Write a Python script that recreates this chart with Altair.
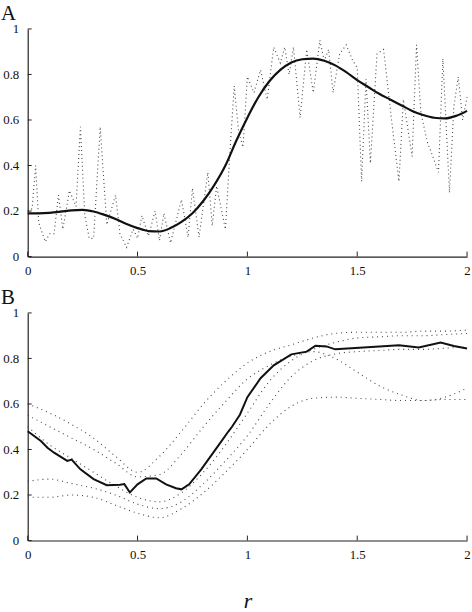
import altair as alt
import pandas as pd

FONT = "Liberation Serif"

# ---------------- Panel A ----------------
a_solid_r = [0.00, 0.05, 0.10, 0.15, 0.20, 0.25, 0.30, 0.35, 0.40, 0.45, 0.50,
             0.55, 0.60, 0.65, 0.70, 0.75, 0.80, 0.85, 0.90, 0.95, 1.00, 1.05,
             1.10, 1.15, 1.20, 1.25, 1.30, 1.35, 1.40, 1.45, 1.50, 1.55, 1.60,
             1.65, 1.70, 1.75, 1.80, 1.85, 1.90, 1.95, 2.00]
a_solid_v = [0.190, 0.190, 0.192, 0.197, 0.203, 0.205, 0.198, 0.183, 0.165, 0.143, 0.125,
             0.112, 0.110, 0.125, 0.152, 0.190, 0.245, 0.315, 0.400, 0.510, 0.610, 0.700,
             0.770, 0.820, 0.853, 0.867, 0.870, 0.860, 0.840, 0.810, 0.775, 0.745, 0.715,
             0.690, 0.665, 0.640, 0.622, 0.610, 0.607, 0.618, 0.640]

a_dot_r = [0.00, 0.02, 0.036, 0.05, 0.08, 0.10, 0.12, 0.14, 0.16, 0.19, 0.22, 0.24,
           0.26, 0.28, 0.30, 0.33, 0.36, 0.40, 0.42, 0.45, 0.48, 0.50, 0.52, 0.55,
           0.58, 0.60, 0.62, 0.65, 0.70, 0.73, 0.75, 0.78, 0.82, 0.84, 0.86, 0.90,
           0.92, 0.94, 0.96, 0.98, 1.00, 1.03, 1.06, 1.09, 1.12, 1.15, 1.17, 1.19,
           1.21, 1.24, 1.27, 1.30, 1.33, 1.35, 1.37, 1.39, 1.42, 1.45, 1.48, 1.50,
           1.52, 1.54, 1.56, 1.59, 1.62, 1.66, 1.69, 1.71, 1.75, 1.77, 1.79, 1.82,
           1.84, 1.87, 1.89, 1.92, 1.94, 1.96, 1.98, 2.00]
a_dot_v = [0.20, 0.21, 0.40, 0.15, 0.065, 0.10, 0.10, 0.27, 0.12, 0.29, 0.22, 0.57,
           0.18, 0.08, 0.08, 0.57, 0.14, 0.27, 0.10, 0.04, 0.12, 0.08, 0.18, 0.09,
           0.20, 0.07, 0.19, 0.06, 0.25, 0.085, 0.30, 0.085, 0.37, 0.135, 0.31, 0.12,
           0.45, 0.75, 0.55, 0.48, 0.79, 0.72, 0.82, 0.69, 0.92, 0.85, 0.92, 0.80,
           0.92, 0.61, 0.91, 0.72, 0.95, 0.86, 0.91, 0.72, 0.89, 0.93, 0.86, 0.83,
           0.33, 0.78, 0.41, 0.89, 0.91, 0.57, 0.33, 0.69, 0.44, 0.93, 0.63, 0.50,
           0.45, 0.37, 0.87, 0.28, 0.66, 0.79, 0.60, 0.70]

# ---------------- Panel B ----------------
b_solid_r = [0.00, 0.06, 0.09, 0.12, 0.18, 0.20, 0.24, 0.30, 0.36, 0.42, 0.44,
             0.465, 0.50, 0.54, 0.585, 0.63, 0.675, 0.70, 0.735, 0.79, 0.87,
             0.914, 0.93, 0.966, 1.00, 1.06, 1.12, 1.20, 1.27, 1.31, 1.36, 1.40,
             1.51, 1.69, 1.78, 1.88, 1.94, 2.00]
b_solid_v = [0.480, 0.437, 0.408, 0.386, 0.350, 0.356, 0.313, 0.270, 0.243, 0.245, 0.248,
             0.211, 0.247, 0.273, 0.273, 0.247, 0.230, 0.225, 0.247, 0.313, 0.420,
             0.480, 0.500, 0.553, 0.630, 0.713, 0.770, 0.818, 0.830, 0.856, 0.853, 0.840,
             0.847, 0.858, 0.848, 0.870, 0.855, 0.844]

b_dot_r = [0.0, 0.1, 0.2, 0.3, 0.4, 0.5, 0.6, 0.7, 0.8, 0.9, 1.0,
           1.1, 1.2, 1.3, 1.4, 1.5, 1.6, 1.7, 1.8, 1.9, 2.0]
b_d1 = [0.60, 0.56, 0.51, 0.45, 0.37, 0.30, 0.37, 0.48, 0.60, 0.70, 0.78,
        0.83, 0.86, 0.89, 0.91, 0.915, 0.915, 0.915, 0.92, 0.92, 0.925]
b_d2 = [0.55, 0.50, 0.45, 0.40, 0.34, 0.28, 0.29, 0.38, 0.50, 0.61, 0.71,
        0.77, 0.81, 0.83, 0.80, 0.74, 0.68, 0.64, 0.615, 0.63, 0.67]
b_d3 = [0.50, 0.42, 0.36, 0.30, 0.24, 0.19, 0.17, 0.21, 0.30, 0.42, 0.56,
        0.70, 0.79, 0.84, 0.87, 0.89, 0.895, 0.90, 0.90, 0.905, 0.91]
b_d4 = [0.26, 0.27, 0.25, 0.23, 0.20, 0.16, 0.14, 0.17, 0.25, 0.35, 0.46,
        0.60, 0.72, 0.79, 0.82, 0.83, 0.835, 0.84, 0.84, 0.845, 0.85]
b_d5 = [0.19, 0.19, 0.20, 0.19, 0.155, 0.12, 0.10, 0.14, 0.21, 0.30, 0.40,
        0.51, 0.59, 0.625, 0.63, 0.625, 0.62, 0.615, 0.615, 0.62, 0.62]

x_ticks = [0, 0.5, 1, 1.5, 2]
y_ticks = [0, 0.2, 0.4, 0.6, 0.8, 1]

W, H = 444, 230

a_solid = pd.DataFrame({"r": a_solid_r, "v": a_solid_v})
a_dot = pd.DataFrame({"r": a_dot_r, "v": a_dot_v})
b_solid = pd.DataFrame({"r": b_solid_r, "v": b_solid_v})
rows = []
for name, vals in [("d1", b_d1), ("d2", b_d2), ("d3", b_d3), ("d4", b_d4), ("d5", b_d5)]:
    for r, v in zip(b_dot_r, vals):
        rows.append({"r": r, "v": v, "s": name})
b_dot = pd.DataFrame(rows)
xt = pd.DataFrame({"t": x_ticks})
yt = pd.DataFrame({"t": y_ticks})


def xscale():
    return alt.Scale(domain=[0, 2], nice=False, zero=False)


def yscale():
    return alt.Scale(domain=[0, 1], nice=False)


def x_axis(title=None):
    kw = dict(values=x_ticks, ticks=False, grid=False, domainColor="#222",
              domainWidth=1.2, labelFont=FONT, labelFontSize=13, labelColor="#111",
              labelPadding=8, labelFlush=False, format="~g")
    if title:
        return alt.Axis(title=title, titleFont=FONT, titleFontSize=22,
                        titleFontStyle="italic", titleFontWeight="normal",
                        titleColor="#111", titlePadding=30, **kw)
    return alt.Axis(title=None, **kw)


def y_axis():
    return alt.Axis(title=None, values=y_ticks, ticks=False, grid=False,
                    domainColor="#222", domainWidth=1.2, labelFont=FONT,
                    labelFontSize=13, labelColor="#111", labelPadding=9,
                    labelFlush=False, format="~g")


def tick_layers():
    xr = alt.Chart(xt).mark_rule(color="#222", strokeWidth=1).encode(
        x=alt.X("t:Q", scale=xscale()), y=alt.value(H), y2=alt.value(H - 5))
    yr = alt.Chart(yt).mark_rule(color="#222", strokeWidth=1).encode(
        y=alt.Y("t:Q", scale=yscale()), x=alt.value(0), x2=alt.value(4))
    return [xr, yr]


def title(t):
    return alt.TitleParams(t, anchor="start", frame="group", dx=-27, offset=-1,
                           font=FONT, fontSize=21, fontWeight="normal", color="#111")


a_dot_l = alt.Chart(a_dot).mark_line(color="#444", strokeWidth=1.1,
                                     strokeDash=[1, 3]).encode(
    x=alt.X("r:Q", scale=xscale(), axis=x_axis()),
    y=alt.Y("v:Q", scale=yscale(), axis=y_axis()))
a_sol_l = alt.Chart(a_solid).mark_line(color="#111", strokeWidth=2.2,
                                       interpolate="monotone").encode(
    x=alt.X("r:Q", scale=xscale()), y=alt.Y("v:Q", scale=yscale()))
panel_a = alt.layer(a_dot_l, a_sol_l, *tick_layers()).properties(
    width=W, height=H, title=title("A"))

b_dot_l = alt.Chart(b_dot).mark_line(color="#444", strokeWidth=1.1,
                                     strokeDash=[1, 4],
                                     interpolate="monotone").encode(
    x=alt.X("r:Q", scale=xscale(), axis=x_axis("r")),
    y=alt.Y("v:Q", scale=yscale(), axis=y_axis()),
    detail="s:N")
b_sol_l = alt.Chart(b_solid).mark_line(color="#111", strokeWidth=2.0).encode(
    x=alt.X("r:Q", scale=xscale()), y=alt.Y("v:Q", scale=yscale()))
panel_b = alt.layer(b_dot_l, b_sol_l, *tick_layers()).properties(
    width=W, height=H, title=title("B"))

chart = alt.vconcat(panel_a, panel_b, spacing=57, bounds="flush").properties(
    padding={"left": 1, "top": 0, "right": 0, "bottom": 0},
    background="white"
).configure(font=FONT).configure_view(stroke=None)

chart.save("out.html", embed_options={"renderer": "svg", "actions": False})
